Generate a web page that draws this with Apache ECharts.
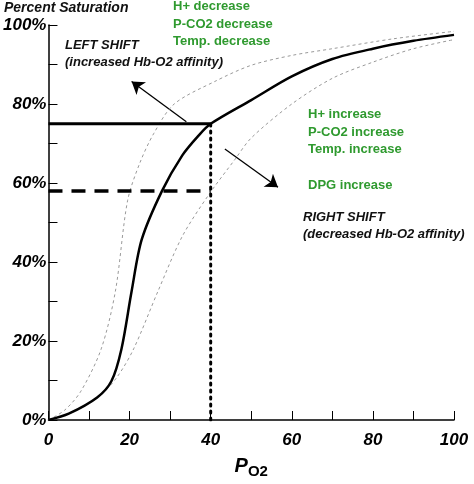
<!DOCTYPE html><html><head><meta charset="utf-8"><script src="https://cdn.jsdelivr.net/npm/echarts@6/dist/echarts.min.js"></script></head><body style="margin:0"><div id="c" style="width:474px;height:484px"></div><script>
const normal=[[0,0],[5,1.6],[12,5.7],[15.5,9.8],[18,18],[20.5,32.6],[23,45.7],[28,58],[33,67],[37,72],[40,75],[50,81],[60,87],[70,91.4],[80,94],[90,96],[100,97.5]];
const leftShift=[[0,0],[4,2.5],[8,7.3],[13,18],[16.5,32.6],[19.5,55.5],[22.5,65],[26,72.6],[31,80],[41,85.7],[50,89.8],[60,92.3],[70,94],[85,96.5],[100,98.4]];
const rightShift=[[0,0],[6,2],[13,6.5],[17,11],[21,18],[27,32.6],[33,46.5],[39.5,57],[46,66],[50,71.4],[60,80],[70,86.5],[80,90.6],[90,94],[100,96.3]];
const hLine1=[[0,75],[40,75]], hLine2=[[0,58],[40,58]], vLine=[[40,0],[40,75]];
const arrowL=[[34,75.5],[20.5,85.7]], arrowR=[[43.5,68.6],[56.6,58.9]];
const ch=echarts.init(document.getElementById('c'));
const F='Liberation Sans, Arial';
const ln=(d,w,t,c)=>({type:'line',data:d,symbol:'none',smooth:0.3,lineStyle:{width:w,type:t,color:c},z:2});
const txt=(x,y,s,g,it)=>({type:'text',left:x,top:y,style:{text:s,fill:g?'#2f9a2f':'#111',font:(it?'italic bold ':'bold ')+'13px '+F}});
const tick={show:true,inside:true,length:9,lineStyle:{color:'#000',width:1}};
ch.setOption({animation:false,
grid:{left:46,right:20,top:25,bottom:51},
xAxis:{type:'value',min:0,max:100,interval:10,axisLine:{lineStyle:{color:'#000',width:1.5}},axisTick:tick,splitLine:{show:false},
 axisLabel:{formatter:v=>v%20?'':v,color:'#000',fontSize:17,fontStyle:'italic',fontWeight:'bold',fontFamily:F,margin:12},
 name:'{a|P}{b|O2}',nameLocation:'middle',nameGap:34,nameTextStyle:{rich:{a:{fontSize:20,fontStyle:'italic',fontWeight:'bold',fontFamily:F,color:'#000'},b:{fontSize:15,fontWeight:'bold',fontFamily:F,color:'#000',padding:[10,0,0,0]}}}},
yAxis:{type:'value',min:0,max:100,interval:10,axisLine:{show:true,lineStyle:{color:'#000',width:1.5}},axisTick:tick,splitLine:{show:false},
 axisLabel:{formatter:v=>v%20?'':v+'%',color:'#000',fontSize:17,fontStyle:'italic',fontWeight:'bold',fontFamily:F,margin:2}},
graphic:[
 {type:'text',left:4,top:1,style:{text:'Percent Saturation',fill:'#111',font:'italic bold 14px '+F}},
 txt(173,0,'H+ decrease',1),txt(173,18,'P-CO2 decrease',1),txt(173,35,'Temp. decrease',1),
 txt(65,39,'LEFT SHIFT',0,1),txt(65,56,'(increased Hb-O2 affinity)',0,1),
 txt(308,108,'H+ increase',1),txt(308,126,'P-CO2 increase',1),txt(308,143,'Temp. increase',1),txt(308,179,'DPG increase',1),
 txt(303,211,'RIGHT SHIFT',0,1),txt(303,228,'(decreased Hb-O2 affinity)',0,1)],
series:[ln(leftShift,1,[3,3],'#999'),ln(rightShift,1,[3,3],'#999'),ln(normal,2.5,'solid','#000'),
 {type:'line',data:hLine1,symbol:'none',lineStyle:{width:3,color:'#000'}},
 {type:'line',data:hLine2,symbol:'none',lineStyle:{width:3.5,color:'#000',type:[14,9]}},
 {type:'line',data:vLine,symbol:'none',lineStyle:{width:3,color:'#000',type:[2,5],cap:'round'}},
 {type:'lines',coordinateSystem:'cartesian2d',symbol:['none','arrow'],symbolSize:12,lineStyle:{width:1.3,color:'#000',opacity:1},
  data:[{coords:arrowL},{coords:arrowR}]}]});
</script></body></html>
